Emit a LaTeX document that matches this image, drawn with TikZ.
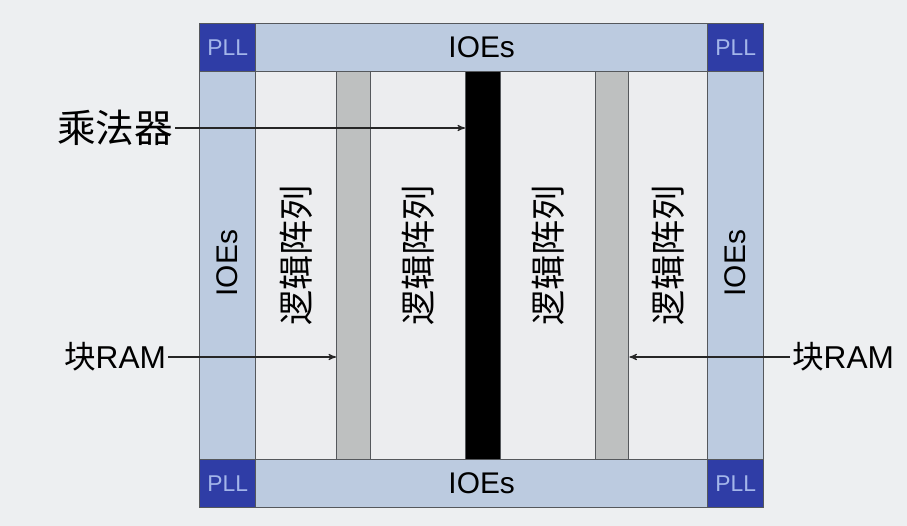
\documentclass[tikz,border=0pt]{standalone}
\usepackage{fontspec}
\setmainfont{Liberation Sans}
\newfontfamily\cjk{Noto Sans CJK SC}
\usetikzlibrary{arrows,shapes}

\definecolor{bg}{HTML}{EDEFF1}
\definecolor{pllblue}{HTML}{2F3DA6}
\definecolor{plltext}{HTML}{A4B6EA}
\definecolor{ioeblue}{HTML}{BCCBE0}
\definecolor{logicfill}{HTML}{ECEDEF}
\definecolor{ramgray}{HTML}{BEC0C0}
\definecolor{edge}{HTML}{55585C}

\begin{document}
\begin{tikzpicture}[
  x=0.02cm, y=-0.02cm,
  block/.style={draw=edge, line width=0.8pt, inner sep=0pt, anchor=north west},
  pll/.style={block, fill=pllblue, text=plltext, font=\fontsize{13}{13}\selectfont,
    minimum width=1.12cm, minimum height=0.96cm},
  ioe/.style={block, fill=ioeblue, font=\fontsize{17}{17}\selectfont},
  logic/.style={block, fill=logicfill, minimum height=7.76cm},
  ram/.style={block, fill=ramgray, minimum height=7.76cm},
  mult/.style={block, fill=black, minimum height=7.76cm},
  coltext/.style={rotate=90, inner sep=0pt},
  label/.style={font=\cjk\fontsize{22}{22}\selectfont, inner sep=1pt},
  arrow/.style={->, >=stealth', line width=0.6pt, draw=black!85}]

  % background and frame
  \useasboundingbox (0,0) rectangle (907,526);
  \fill[bg] (0,0) rectangle (907,526);

  % top row
  \node[pll] (pll-nw) at (199,23) {PLL};
  \node[ioe, minimum width=9.04cm, minimum height=0.96cm] (ioe-n) at (255,23) {IOEs};
  \node[pll] (pll-ne) at (707,23) {PLL};

  % columns
  \node[ioe, minimum width=1.12cm, minimum height=7.76cm] (ioe-w) at (199,71) {};
  \node[logic, minimum width=1.62cm] (logic-1) at (255,71) {};
  \node[ram, minimum width=0.68cm] (ram-w) at (336,71) {};
  \node[logic, minimum width=1.90cm] (logic-2) at (370,71) {};
  \node[mult, minimum width=0.70cm] (mult) at (465,71) {};
  \node[logic, minimum width=1.90cm] (logic-3) at (500,71) {};
  \node[ram, minimum width=0.66cm] (ram-e) at (595,71) {};
  \node[logic, minimum width=1.58cm] (logic-4) at (628,71) {};
  \node[ioe, minimum width=1.12cm, minimum height=7.76cm] (ioe-e) at (707,71) {};

  % bottom row
  \node[pll] (pll-sw) at (199,459) {PLL};
  \node[ioe, minimum width=9.04cm, minimum height=0.96cm] (ioe-s) at (255,459) {IOEs};
  \node[pll] (pll-se) at (707,459) {PLL};

  % vertical texts
  \node[coltext, font=\fontsize{17}{17}\selectfont] (ioe-w-text) at ([yshift=0.05cm]ioe-w.center) {IOEs};
  \node[coltext, font=\fontsize{17}{17}\selectfont] (ioe-e-text) at ([yshift=0.05cm]ioe-e.center) {IOEs};
  \foreach \i in {1,...,4}
    \node[coltext, font=\cjk\fontsize{20}{20}\selectfont] (logic-\i-text)
      at ([yshift=0.2cm]logic-\i.center) {逻辑阵列};

  % labels and arrows
  \node[label] (mult-label) at (115,128) {乘法器};
  \node[label, font=\fontsize{18}{18}\selectfont] (ram-label-w) at (115,357) {{\cjk 块}RAM};
  \node[label, font=\fontsize{18}{18}\selectfont] (ram-label-e) at (843,357) {{\cjk 块}RAM};

  \draw[arrow] (mult-label.east) -- (mult-label.east -| mult.west);
  \draw[arrow] (ram-label-w.east) -- (ram-label-w.east -| ram-w.west);
  \draw[arrow] (ram-label-e.west) -- (ram-label-e.west -| ram-e.east);

\end{tikzpicture}
\end{document}
